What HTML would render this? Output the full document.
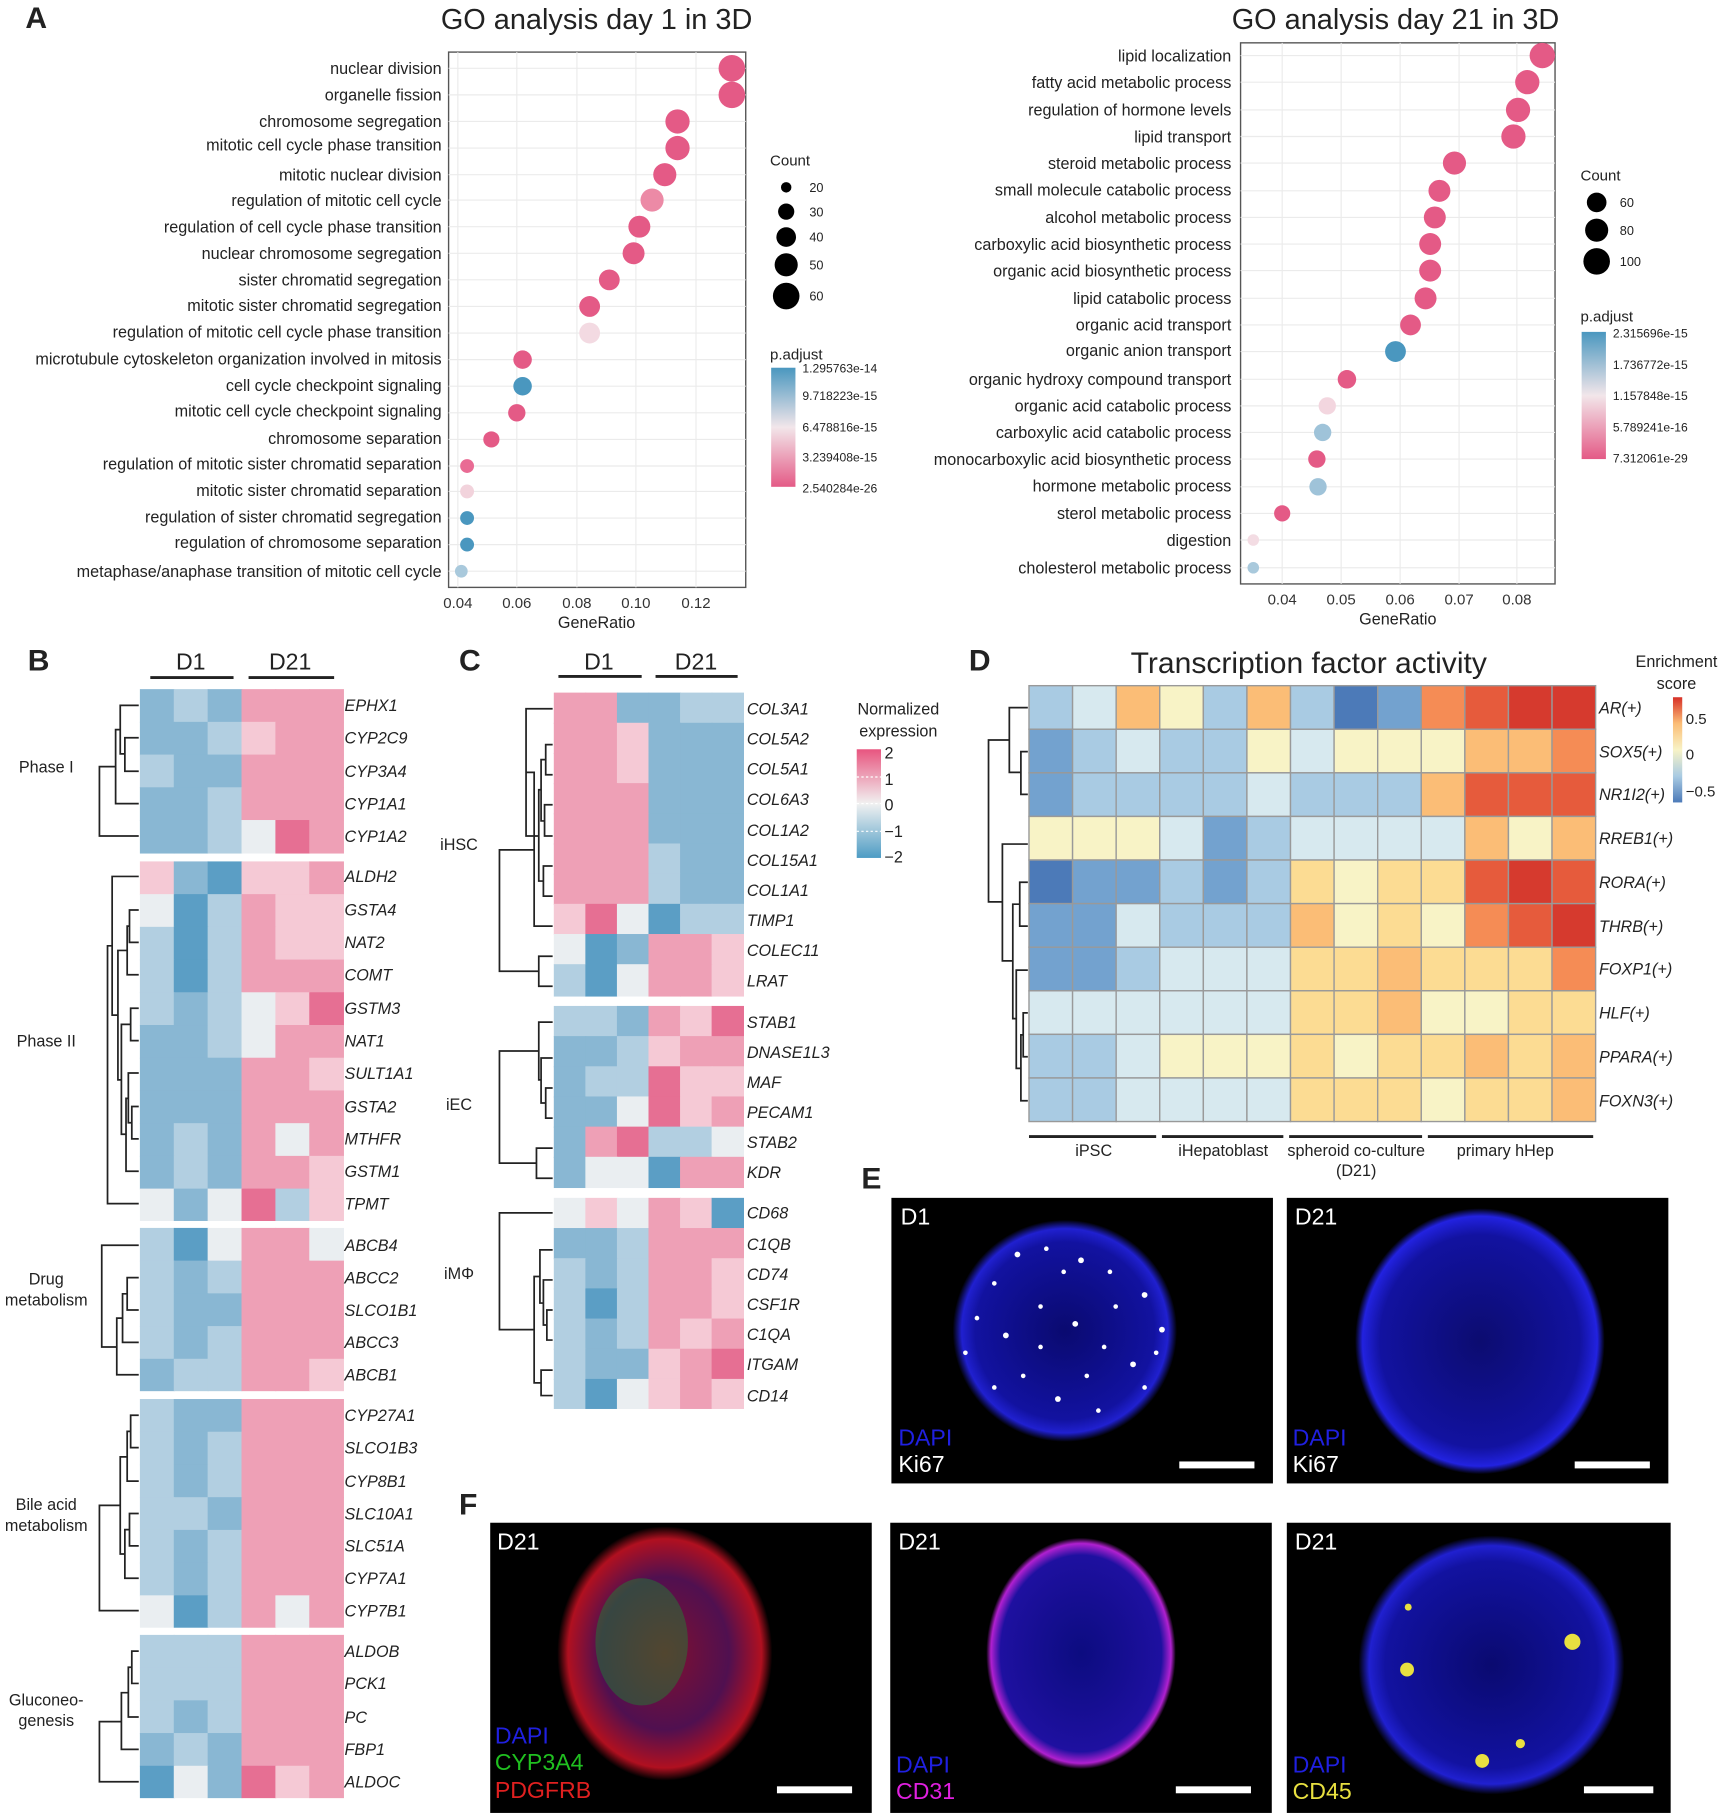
<!DOCTYPE html>
<html><head><meta charset="utf-8"><style>
html,body{margin:0;padding:0;background:#fff}
svg{display:block;font-family:"Liberation Sans",sans-serif}
.s{fill:#5b9ec5}.m{fill:#89b7d3}.l{fill:#b2cfe1}.w{fill:#eaeef1}.q{fill:#f5c9d5}.p{fill:#eea0b6}.r{fill:#e66f93}
.D{fill:#4c7ab8}.B{fill:#73a2cf}.L{fill:#a9cbe3}.C{fill:#d7e9ef}.Y{fill:#f8f3c6}.O{fill:#fcdc93}.P{fill:#fbbd76}.Q{fill:#f58c55}.R{fill:#e65b3c}.X{fill:#d63a2e}
.go{font-size:14px;fill:#222;text-anchor:end}
.tk{font-size:13px;fill:#333}
.gn{font-size:14px;fill:#222;font-style:italic}
.lt{font-size:26px;font-weight:bold;fill:#222}
.dn path{fill:none;stroke:#222;stroke-width:1.5}
</style></head><body>
<svg width="1725" height="1813" viewBox="0 0 1492 1568" xmlns="http://www.w3.org/2000/svg">
<defs>
<linearGradient id="gpa" x1="0" y1="0" x2="0" y2="1"><stop offset="0" stop-color="#4a97bf"/><stop offset="0.5" stop-color="#f2e6ea"/><stop offset="1" stop-color="#e45a86"/></linearGradient>
<linearGradient id="gne" x1="0" y1="0" x2="0" y2="1"><stop offset="0" stop-color="#e8557f"/><stop offset="0.5" stop-color="#f1f1f1"/><stop offset="1" stop-color="#4d9cc4"/></linearGradient>
<linearGradient id="gen" x1="0" y1="0" x2="0" y2="1"><stop offset="0" stop-color="#d73027"/><stop offset="0.25" stop-color="#fbbd76"/><stop offset="0.5" stop-color="#f8f3c6"/><stop offset="0.75" stop-color="#a9cbe3"/><stop offset="1" stop-color="#4c7ab8"/></linearGradient>
<radialGradient id="sph"><stop offset="0" stop-color="#0c0c70"/><stop offset="0.8" stop-color="#1212a0"/><stop offset="0.94" stop-color="#2222e0"/><stop offset="1" stop-color="#000"/></radialGradient>
<radialGradient id="sph2"><stop offset="0" stop-color="#0a0a70"/><stop offset="0.8" stop-color="#1212a0"/><stop offset="0.92" stop-color="#2020d0"/><stop offset="1" stop-color="#000"/></radialGradient>
<radialGradient id="sphr"><stop offset="0" stop-color="#801030"/><stop offset="0.6" stop-color="#501050"/><stop offset="0.9" stop-color="#b01020"/><stop offset="1" stop-color="#000"/></radialGradient>
<radialGradient id="sphm"><stop offset="0" stop-color="#0c0c80"/><stop offset="0.85" stop-color="#1e10a0"/><stop offset="0.95" stop-color="#b020d0"/><stop offset="1" stop-color="#000"/></radialGradient>
</defs>

<!-- ===== Panel A left ===== -->
<text x="22" y="24" class="lt">A</text>
<text x="516" y="25" font-size="25" fill="#222" text-anchor="middle">GO analysis day 1 in 3D</text>
<rect x="388" y="45" width="257" height="463" fill="#fff" stroke="#555" stroke-width="1.2"/>
<g stroke="#ebebeb" stroke-width="1">
<path d="M396 45V508M447 45V508M499 45V508M550 45V508M602 45V508"/>
<path d="M388 59H645M388 82H645M388 105H645M388 128H645M388 151H645M388 173H645M388 196H645M388 219H645M388 242H645M388 265H645M388 288H645M388 311H645M388 334H645M388 357H645M388 380H645M388 403H645M388 425H645M388 448H645M388 471H645M388 494H645"/>
</g>
<g>
<circle cx="633" cy="59" r="11.5" fill="#e45a86"/><circle cx="633" cy="82" r="11.5" fill="#e45a86"/>
<circle cx="586" cy="105" r="10.5" fill="#e45a86"/><circle cx="586" cy="128" r="10.5" fill="#e45a86"/>
<circle cx="575" cy="151" r="10" fill="#e45a86"/><circle cx="564" cy="173" r="10" fill="#ec8aa6"/>
<circle cx="553" cy="196" r="9.5" fill="#e45a86"/><circle cx="548" cy="219" r="9.5" fill="#e45a86"/>
<circle cx="527" cy="242" r="9" fill="#e45a86"/><circle cx="510" cy="265" r="9" fill="#e45a86"/>
<circle cx="510" cy="288" r="9" fill="#f3dae2"/><circle cx="452" cy="311" r="8" fill="#e45a86"/>
<circle cx="452" cy="334" r="8" fill="#4a97bf"/><circle cx="447" cy="357" r="7.5" fill="#e45a86"/>
<circle cx="425" cy="380" r="7" fill="#e45a86"/><circle cx="404" cy="403" r="6" fill="#e96b94"/>
<circle cx="404" cy="425" r="6" fill="#f2d3dc"/><circle cx="404" cy="448" r="6" fill="#4a97bf"/>
<circle cx="404" cy="471" r="6" fill="#4a97bf"/><circle cx="399" cy="494" r="5.5" fill="#a9c9dc"/>
</g>
<g class="go">
<text x="382" y="64">nuclear division</text><text x="382" y="87">organelle fission</text>
<text x="382" y="110">chromosome segregation</text><text x="382" y="130">mitotic cell cycle phase transition</text>
<text x="382" y="156">mitotic nuclear division</text><text x="382" y="178">regulation of mitotic cell cycle</text>
<text x="382" y="201">regulation of cell cycle phase transition</text><text x="382" y="224">nuclear chromosome segregation</text>
<text x="382" y="247">sister chromatid segregation</text><text x="382" y="269">mitotic sister chromatid segregation</text>
<text x="382" y="292">regulation of mitotic cell cycle phase transition</text><text x="382" y="315">microtubule cytoskeleton organization involved in mitosis</text>
<text x="382" y="338">cell cycle checkpoint signaling</text><text x="382" y="360">mitotic cell cycle checkpoint signaling</text>
<text x="382" y="384">chromosome separation</text><text x="382" y="406">regulation of mitotic sister chromatid separation</text>
<text x="382" y="429">mitotic sister chromatid separation</text><text x="382" y="452">regulation of sister chromatid segregation</text>
<text x="382" y="474">regulation of chromosome separation</text><text x="382" y="499">metaphase/anaphase transition of mitotic cell cycle</text>
</g>
<g class="tk" text-anchor="middle"><text x="396" y="526">0.04</text><text x="447" y="526">0.06</text><text x="499" y="526">0.08</text><text x="550" y="526">0.10</text><text x="602" y="526">0.12</text></g>
<text x="516" y="543" font-size="14" fill="#222" text-anchor="middle">GeneRatio</text>
<text x="666" y="143" font-size="13" fill="#222">Count</text>
<circle cx="680" cy="162" r="4.5" fill="#000"/><circle cx="680" cy="183" r="7" fill="#000"/><circle cx="680" cy="205" r="8.5" fill="#000"/><circle cx="680" cy="229" r="10" fill="#000"/><circle cx="680" cy="256" r="11.5" fill="#000"/>
<g font-size="11" fill="#222"><text x="700" y="166">20</text><text x="700" y="187">30</text><text x="700" y="209">40</text><text x="700" y="233">50</text><text x="700" y="260">60</text></g>
<text x="666" y="311" font-size="13" fill="#222">p.adjust</text>
<rect x="667" y="318" width="21" height="103" fill="url(#gpa)"/>
<g font-size="10.5" fill="#222"><text x="694" y="322">1.295763e-14</text><text x="694" y="346">9.718223e-15</text><text x="694" y="373">6.478816e-15</text><text x="694" y="399">3.239408e-15</text><text x="694" y="426">2.540284e-26</text></g>

<!-- ===== Panel A right ===== -->
<text x="1207" y="25" font-size="25" fill="#222" text-anchor="middle">GO analysis day 21 in 3D</text>
<rect x="1073" y="37" width="272" height="468" fill="#fff" stroke="#555" stroke-width="1.2"/>
<g stroke="#ebebeb" stroke-width="1">
<path d="M1109 37V505M1160 37V505M1211 37V505M1262 37V505M1312 37V505"/>
<path d="M1073 48H1345M1073 71H1345M1073 95H1345M1073 118H1345M1073 141H1345M1073 165H1345M1073 188H1345M1073 211H1345M1073 234H1345M1073 258H1345M1073 281H1345M1073 304H1345M1073 328H1345M1073 351H1345M1073 374H1345M1073 397H1345M1073 421H1345M1073 444H1345M1073 467H1345M1073 491H1345"/>
</g>
<g>
<circle cx="1334" cy="48" r="11" fill="#e45a86"/><circle cx="1321" cy="71" r="10.5" fill="#e45a86"/>
<circle cx="1313" cy="95" r="10.5" fill="#e45a86"/><circle cx="1309" cy="118" r="10.5" fill="#e45a86"/>
<circle cx="1258" cy="141" r="10" fill="#e45a86"/><circle cx="1245" cy="165" r="9.5" fill="#e45a86"/>
<circle cx="1241" cy="188" r="9.5" fill="#e45a86"/><circle cx="1237" cy="211" r="9.5" fill="#e45a86"/>
<circle cx="1237" cy="234" r="9.5" fill="#e45a86"/><circle cx="1233" cy="258" r="9.5" fill="#e45a86"/>
<circle cx="1220" cy="281" r="9" fill="#e45a86"/><circle cx="1207" cy="304" r="9" fill="#4a97bf"/>
<circle cx="1165" cy="328" r="8" fill="#e45a86"/><circle cx="1148" cy="351" r="7.5" fill="#f3d6df"/>
<circle cx="1144" cy="374" r="7.5" fill="#9fc3d9"/><circle cx="1139" cy="397" r="7.5" fill="#e45a86"/>
<circle cx="1140" cy="421" r="7.5" fill="#9fc3d9"/><circle cx="1109" cy="444" r="7" fill="#e45a86"/>
<circle cx="1084" cy="467" r="5" fill="#f3dce3"/><circle cx="1084" cy="491" r="5" fill="#a9c9dc"/>
</g>
<g class="go">
<text x="1065" y="53">lipid localization</text><text x="1065" y="76">fatty acid metabolic process</text>
<text x="1065" y="100">regulation of hormone levels</text><text x="1065" y="123">lipid transport</text>
<text x="1065" y="146">steroid metabolic process</text><text x="1065" y="169">small molecule catabolic process</text>
<text x="1065" y="193">alcohol metabolic process</text><text x="1065" y="216">carboxylic acid biosynthetic process</text>
<text x="1065" y="239">organic acid biosynthetic process</text><text x="1065" y="263">lipid catabolic process</text>
<text x="1065" y="286">organic acid transport</text><text x="1065" y="308">organic anion transport</text>
<text x="1065" y="333">organic hydroxy compound transport</text><text x="1065" y="356">organic acid catabolic process</text>
<text x="1065" y="379">carboxylic acid catabolic process</text><text x="1065" y="402">monocarboxylic acid biosynthetic process</text>
<text x="1065" y="425">hormone metabolic process</text><text x="1065" y="449">sterol metabolic process</text>
<text x="1065" y="472">digestion</text><text x="1065" y="496">cholesterol metabolic process</text>
</g>
<g class="tk" text-anchor="middle"><text x="1109" y="523">0.04</text><text x="1160" y="523">0.05</text><text x="1211" y="523">0.06</text><text x="1262" y="523">0.07</text><text x="1312" y="523">0.08</text></g>
<text x="1209" y="540" font-size="14" fill="#222" text-anchor="middle">GeneRatio</text>
<text x="1367" y="156" font-size="13" fill="#222">Count</text>
<circle cx="1381" cy="175" r="8.5" fill="#000"/><circle cx="1381" cy="199" r="10" fill="#000"/><circle cx="1381" cy="226" r="11.5" fill="#000"/>
<g font-size="11" fill="#222"><text x="1401" y="179">60</text><text x="1401" y="203">80</text><text x="1401" y="230">100</text></g>
<text x="1367" y="278" font-size="13" fill="#222">p.adjust</text>
<rect x="1368" y="287" width="21" height="110" fill="url(#gpa)"/>
<g font-size="10.5" fill="#222"><text x="1395" y="292">2.315696e-15</text><text x="1395" y="319">1.736772e-15</text><text x="1395" y="346">1.157848e-15</text><text x="1395" y="373">5.789241e-16</text><text x="1395" y="400">7.312061e-29</text></g>

<!-- ===== Panel B ===== -->
<text x="24" y="580" class="lt">B</text>
<text x="165" y="579" font-size="20" fill="#222" text-anchor="middle">D1</text>
<text x="251" y="579" font-size="20" fill="#222" text-anchor="middle">D21</text>
<path d="M130 586H202M215 586H289" stroke="#222" stroke-width="2.5"/>
<g font-size="14" fill="#222" text-anchor="middle">
<text x="40" y="668">Phase I</text><text x="40" y="905">Phase II</text>
<text x="40" y="1111">Drug</text><text x="40" y="1129">metabolism</text>
<text x="40" y="1306">Bile acid</text><text x="40" y="1324">metabolism</text>
<text x="40" y="1475">Gluconeo-</text><text x="40" y="1493">genesis</text>
</g>
<g transform="translate(121,596)">
<rect x="0" y="0" width="30" height="29" class="m"/><rect x="29.3" y="0" width="30" height="29" class="l"/><rect x="58.6" y="0" width="30" height="29" class="m"/><rect x="87.9" y="0" width="30" height="29" class="p"/><rect x="117.2" y="0" width="30" height="29" class="p"/><rect x="146.5" y="0" width="30" height="29" class="p"/>
<rect x="0" y="28.3" width="30" height="29" class="m"/><rect x="29.3" y="28.3" width="30" height="29" class="m"/><rect x="58.6" y="28.3" width="30" height="29" class="l"/><rect x="87.9" y="28.3" width="30" height="29" class="q"/><rect x="117.2" y="28.3" width="30" height="29" class="p"/><rect x="146.5" y="28.3" width="30" height="29" class="p"/>
<rect x="0" y="56.6" width="30" height="29" class="l"/><rect x="29.3" y="56.6" width="30" height="29" class="m"/><rect x="58.6" y="56.6" width="30" height="29" class="m"/><rect x="87.9" y="56.6" width="30" height="29" class="p"/><rect x="117.2" y="56.6" width="30" height="29" class="p"/><rect x="146.5" y="56.6" width="30" height="29" class="p"/>
<rect x="0" y="84.9" width="30" height="29" class="m"/><rect x="29.3" y="84.9" width="30" height="29" class="m"/><rect x="58.6" y="84.9" width="30" height="29" class="l"/><rect x="87.9" y="84.9" width="30" height="29" class="p"/><rect x="117.2" y="84.9" width="30" height="29" class="p"/><rect x="146.5" y="84.9" width="30" height="29" class="p"/>
<rect x="0" y="113.2" width="30" height="29" class="m"/><rect x="29.3" y="113.2" width="30" height="29" class="m"/><rect x="58.6" y="113.2" width="30" height="29" class="l"/><rect x="87.9" y="113.2" width="30" height="29" class="w"/><rect x="117.2" y="113.2" width="30" height="29" class="r"/><rect x="146.5" y="113.2" width="30" height="29" class="p"/>
</g>
<g transform="translate(121,745)">
<rect x="0" y="0" width="30" height="29" class="q"/><rect x="29.3" y="0" width="30" height="29" class="m"/><rect x="58.6" y="0" width="30" height="29" class="s"/><rect x="87.9" y="0" width="30" height="29" class="q"/><rect x="117.2" y="0" width="30" height="29" class="q"/><rect x="146.5" y="0" width="30" height="29" class="p"/>
<rect x="0" y="28.3" width="30" height="29" class="w"/><rect x="29.3" y="28.3" width="30" height="29" class="s"/><rect x="58.6" y="28.3" width="30" height="29" class="l"/><rect x="87.9" y="28.3" width="30" height="29" class="p"/><rect x="117.2" y="28.3" width="30" height="29" class="q"/><rect x="146.5" y="28.3" width="30" height="29" class="q"/>
<rect x="0" y="56.6" width="30" height="29" class="l"/><rect x="29.3" y="56.6" width="30" height="29" class="s"/><rect x="58.6" y="56.6" width="30" height="29" class="l"/><rect x="87.9" y="56.6" width="30" height="29" class="p"/><rect x="117.2" y="56.6" width="30" height="29" class="q"/><rect x="146.5" y="56.6" width="30" height="29" class="q"/>
<rect x="0" y="84.9" width="30" height="29" class="l"/><rect x="29.3" y="84.9" width="30" height="29" class="s"/><rect x="58.6" y="84.9" width="30" height="29" class="l"/><rect x="87.9" y="84.9" width="30" height="29" class="p"/><rect x="117.2" y="84.9" width="30" height="29" class="p"/><rect x="146.5" y="84.9" width="30" height="29" class="p"/>
<rect x="0" y="113.2" width="30" height="29" class="l"/><rect x="29.3" y="113.2" width="30" height="29" class="m"/><rect x="58.6" y="113.2" width="30" height="29" class="l"/><rect x="87.9" y="113.2" width="30" height="29" class="w"/><rect x="117.2" y="113.2" width="30" height="29" class="q"/><rect x="146.5" y="113.2" width="30" height="29" class="r"/>
<rect x="0" y="141.5" width="30" height="29" class="m"/><rect x="29.3" y="141.5" width="30" height="29" class="m"/><rect x="58.6" y="141.5" width="30" height="29" class="l"/><rect x="87.9" y="141.5" width="30" height="29" class="w"/><rect x="117.2" y="141.5" width="30" height="29" class="p"/><rect x="146.5" y="141.5" width="30" height="29" class="p"/>
<rect x="0" y="169.8" width="30" height="29" class="m"/><rect x="29.3" y="169.8" width="30" height="29" class="m"/><rect x="58.6" y="169.8" width="30" height="29" class="m"/><rect x="87.9" y="169.8" width="30" height="29" class="p"/><rect x="117.2" y="169.8" width="30" height="29" class="p"/><rect x="146.5" y="169.8" width="30" height="29" class="q"/>
<rect x="0" y="198.1" width="30" height="29" class="m"/><rect x="29.3" y="198.1" width="30" height="29" class="m"/><rect x="58.6" y="198.1" width="30" height="29" class="m"/><rect x="87.9" y="198.1" width="30" height="29" class="p"/><rect x="117.2" y="198.1" width="30" height="29" class="p"/><rect x="146.5" y="198.1" width="30" height="29" class="p"/>
<rect x="0" y="226.4" width="30" height="29" class="m"/><rect x="29.3" y="226.4" width="30" height="29" class="l"/><rect x="58.6" y="226.4" width="30" height="29" class="m"/><rect x="87.9" y="226.4" width="30" height="29" class="p"/><rect x="117.2" y="226.4" width="30" height="29" class="w"/><rect x="146.5" y="226.4" width="30" height="29" class="p"/>
<rect x="0" y="254.7" width="30" height="29" class="m"/><rect x="29.3" y="254.7" width="30" height="29" class="l"/><rect x="58.6" y="254.7" width="30" height="29" class="m"/><rect x="87.9" y="254.7" width="30" height="29" class="p"/><rect x="117.2" y="254.7" width="30" height="29" class="p"/><rect x="146.5" y="254.7" width="30" height="29" class="q"/>
<rect x="0" y="283" width="30" height="28" class="w"/><rect x="29.3" y="283" width="30" height="28" class="m"/><rect x="58.6" y="283" width="30" height="28" class="w"/><rect x="87.9" y="283" width="30" height="28" class="r"/><rect x="117.2" y="283" width="30" height="28" class="l"/><rect x="146.5" y="283" width="30" height="28" class="q"/>
</g>
<g transform="translate(121,1062)">
<rect x="0" y="0" width="30" height="29" class="l"/><rect x="29.3" y="0" width="30" height="29" class="s"/><rect x="58.6" y="0" width="30" height="29" class="w"/><rect x="87.9" y="0" width="30" height="29" class="p"/><rect x="117.2" y="0" width="30" height="29" class="p"/><rect x="146.5" y="0" width="30" height="29" class="w"/>
<rect x="0" y="28.3" width="30" height="29" class="l"/><rect x="29.3" y="28.3" width="30" height="29" class="m"/><rect x="58.6" y="28.3" width="30" height="29" class="l"/><rect x="87.9" y="28.3" width="30" height="29" class="p"/><rect x="117.2" y="28.3" width="30" height="29" class="p"/><rect x="146.5" y="28.3" width="30" height="29" class="p"/>
<rect x="0" y="56.6" width="30" height="29" class="l"/><rect x="29.3" y="56.6" width="30" height="29" class="m"/><rect x="58.6" y="56.6" width="30" height="29" class="m"/><rect x="87.9" y="56.6" width="30" height="29" class="p"/><rect x="117.2" y="56.6" width="30" height="29" class="p"/><rect x="146.5" y="56.6" width="30" height="29" class="p"/>
<rect x="0" y="84.9" width="30" height="29" class="l"/><rect x="29.3" y="84.9" width="30" height="29" class="m"/><rect x="58.6" y="84.9" width="30" height="29" class="l"/><rect x="87.9" y="84.9" width="30" height="29" class="p"/><rect x="117.2" y="84.9" width="30" height="29" class="p"/><rect x="146.5" y="84.9" width="30" height="29" class="p"/>
<rect x="0" y="113.2" width="30" height="28" class="m"/><rect x="29.3" y="113.2" width="30" height="28" class="l"/><rect x="58.6" y="113.2" width="30" height="28" class="l"/><rect x="87.9" y="113.2" width="30" height="28" class="p"/><rect x="117.2" y="113.2" width="30" height="28" class="p"/><rect x="146.5" y="113.2" width="30" height="28" class="q"/>
</g>
<g transform="translate(121,1210)">
<rect x="0" y="0" width="30" height="29" class="l"/><rect x="29.3" y="0" width="30" height="29" class="m"/><rect x="58.6" y="0" width="30" height="29" class="m"/><rect x="87.9" y="0" width="30" height="29" class="p"/><rect x="117.2" y="0" width="30" height="29" class="p"/><rect x="146.5" y="0" width="30" height="29" class="p"/>
<rect x="0" y="28.3" width="30" height="29" class="l"/><rect x="29.3" y="28.3" width="30" height="29" class="m"/><rect x="58.6" y="28.3" width="30" height="29" class="l"/><rect x="87.9" y="28.3" width="30" height="29" class="p"/><rect x="117.2" y="28.3" width="30" height="29" class="p"/><rect x="146.5" y="28.3" width="30" height="29" class="p"/>
<rect x="0" y="56.6" width="30" height="29" class="l"/><rect x="29.3" y="56.6" width="30" height="29" class="m"/><rect x="58.6" y="56.6" width="30" height="29" class="l"/><rect x="87.9" y="56.6" width="30" height="29" class="p"/><rect x="117.2" y="56.6" width="30" height="29" class="p"/><rect x="146.5" y="56.6" width="30" height="29" class="p"/>
<rect x="0" y="84.9" width="30" height="29" class="l"/><rect x="29.3" y="84.9" width="30" height="29" class="l"/><rect x="58.6" y="84.9" width="30" height="29" class="m"/><rect x="87.9" y="84.9" width="30" height="29" class="p"/><rect x="117.2" y="84.9" width="30" height="29" class="p"/><rect x="146.5" y="84.9" width="30" height="29" class="p"/>
<rect x="0" y="113.2" width="30" height="29" class="l"/><rect x="29.3" y="113.2" width="30" height="29" class="m"/><rect x="58.6" y="113.2" width="30" height="29" class="l"/><rect x="87.9" y="113.2" width="30" height="29" class="p"/><rect x="117.2" y="113.2" width="30" height="29" class="p"/><rect x="146.5" y="113.2" width="30" height="29" class="p"/>
<rect x="0" y="141.5" width="30" height="29" class="l"/><rect x="29.3" y="141.5" width="30" height="29" class="m"/><rect x="58.6" y="141.5" width="30" height="29" class="l"/><rect x="87.9" y="141.5" width="30" height="29" class="p"/><rect x="117.2" y="141.5" width="30" height="29" class="p"/><rect x="146.5" y="141.5" width="30" height="29" class="p"/>
<rect x="0" y="169.8" width="30" height="28" class="w"/><rect x="29.3" y="169.8" width="30" height="28" class="s"/><rect x="58.6" y="169.8" width="30" height="28" class="l"/><rect x="87.9" y="169.8" width="30" height="28" class="p"/><rect x="117.2" y="169.8" width="30" height="28" class="w"/><rect x="146.5" y="169.8" width="30" height="28" class="p"/>
</g>
<g transform="translate(121,1414)">
<rect x="0" y="0" width="30" height="29" class="l"/><rect x="29.3" y="0" width="30" height="29" class="l"/><rect x="58.6" y="0" width="30" height="29" class="l"/><rect x="87.9" y="0" width="30" height="29" class="p"/><rect x="117.2" y="0" width="30" height="29" class="p"/><rect x="146.5" y="0" width="30" height="29" class="p"/>
<rect x="0" y="28.3" width="30" height="29" class="l"/><rect x="29.3" y="28.3" width="30" height="29" class="l"/><rect x="58.6" y="28.3" width="30" height="29" class="l"/><rect x="87.9" y="28.3" width="30" height="29" class="p"/><rect x="117.2" y="28.3" width="30" height="29" class="p"/><rect x="146.5" y="28.3" width="30" height="29" class="p"/>
<rect x="0" y="56.6" width="30" height="29" class="l"/><rect x="29.3" y="56.6" width="30" height="29" class="m"/><rect x="58.6" y="56.6" width="30" height="29" class="l"/><rect x="87.9" y="56.6" width="30" height="29" class="p"/><rect x="117.2" y="56.6" width="30" height="29" class="p"/><rect x="146.5" y="56.6" width="30" height="29" class="p"/>
<rect x="0" y="84.9" width="30" height="29" class="m"/><rect x="29.3" y="84.9" width="30" height="29" class="l"/><rect x="58.6" y="84.9" width="30" height="29" class="m"/><rect x="87.9" y="84.9" width="30" height="29" class="p"/><rect x="117.2" y="84.9" width="30" height="29" class="p"/><rect x="146.5" y="84.9" width="30" height="29" class="p"/>
<rect x="0" y="113.2" width="30" height="28" class="s"/><rect x="29.3" y="113.2" width="30" height="28" class="w"/><rect x="58.6" y="113.2" width="30" height="28" class="m"/><rect x="87.9" y="113.2" width="30" height="28" class="r"/><rect x="117.2" y="113.2" width="30" height="28" class="q"/><rect x="146.5" y="113.2" width="30" height="28" class="p"/>
</g>
<g class="gn">
<text x="298" y="615">EPHX1</text><text x="298" y="643">CYP2C9</text><text x="298" y="672">CYP3A4</text><text x="298" y="700">CYP1A1</text><text x="298" y="728">CYP1A2</text>
<text x="298" y="763">ALDH2</text><text x="298" y="792">GSTA4</text><text x="298" y="820">NAT2</text><text x="298" y="848">COMT</text><text x="298" y="877">GSTM3</text><text x="298" y="905">NAT1</text><text x="298" y="933">SULT1A1</text><text x="298" y="962">GSTA2</text><text x="298" y="990">MTHFR</text><text x="298" y="1018">GSTM1</text><text x="298" y="1046">TPMT</text>
<text x="298" y="1082">ABCB4</text><text x="298" y="1110">ABCC2</text><text x="298" y="1138">SLCO1B1</text><text x="298" y="1166">ABCC3</text><text x="298" y="1194">ABCB1</text>
<text x="298" y="1229">CYP27A1</text><text x="298" y="1257">SLCO1B3</text><text x="298" y="1286">CYP8B1</text><text x="298" y="1314">SLC10A1</text><text x="298" y="1342">SLC51A</text><text x="298" y="1370">CYP7A1</text><text x="298" y="1398">CYP7B1</text>
<text x="298" y="1433">ALDOB</text><text x="298" y="1461">PCK1</text><text x="298" y="1490">PC</text><text x="298" y="1518">FBP1</text><text x="298" y="1546">ALDOC</text>
</g>
<g class="dn">
<path d="M120 638H108V667H120M120 610H104V652H108M120 695H100V631H104M120 723H86V663H100"/>
<path d="M120 787H112V815H120M120 843H110V801H112M120 872H113V900H120M120 957H114V985H120M120 928H111V971H114M120 1013H109V950H111M109 981H105V886H113M110 822H102V934H105M120 758H97V878H102M120 1041H93V818H97"/>
<path d="M120 1105H110V1133H120M120 1161H106V1119H110M120 1189H101V1140H106M120 1077H88V1165H101"/>
<path d="M120 1224H113V1252H120M120 1281H110V1238H113M120 1309H112V1337H120M120 1365H108V1323H112M110 1260H104V1344H108M120 1393H86V1302H104"/>
<path d="M120 1428H114V1456H120M120 1485H111V1442H114M120 1513H105V1464H111M120 1541H86V1489H105"/>
</g>

<!-- ===== Panel C ===== -->
<text x="397" y="580" class="lt">C</text>
<text x="518" y="579" font-size="20" fill="#222" text-anchor="middle">D1</text>
<text x="602" y="579" font-size="20" fill="#222" text-anchor="middle">D21</text>
<path d="M483 585H555M567 585H638" stroke="#222" stroke-width="2.5"/>
<g font-size="14" fill="#222" text-anchor="middle"><text x="397" y="735">iHSC</text><text x="397" y="960">iEC</text><text x="397" y="1106">iMΦ</text></g>
<g transform="translate(479,599)">
<rect x="0" y="0" width="28" height="27" class="p"/><rect x="27.3" y="0" width="28" height="27" class="p"/><rect x="54.6" y="0" width="28" height="27" class="m"/><rect x="81.9" y="0" width="28" height="27" class="m"/><rect x="109.2" y="0" width="28" height="27" class="l"/><rect x="136.5" y="0" width="28" height="27" class="l"/>
<rect x="0" y="26.1" width="28" height="27" class="p"/><rect x="27.3" y="26.1" width="28" height="27" class="p"/><rect x="54.6" y="26.1" width="28" height="27" class="q"/><rect x="81.9" y="26.1" width="28" height="27" class="m"/><rect x="109.2" y="26.1" width="28" height="27" class="m"/><rect x="136.5" y="26.1" width="28" height="27" class="m"/>
<rect x="0" y="52.2" width="28" height="27" class="p"/><rect x="27.3" y="52.2" width="28" height="27" class="p"/><rect x="54.6" y="52.2" width="28" height="27" class="q"/><rect x="81.9" y="52.2" width="28" height="27" class="m"/><rect x="109.2" y="52.2" width="28" height="27" class="m"/><rect x="136.5" y="52.2" width="28" height="27" class="m"/>
<rect x="0" y="78.3" width="28" height="27" class="p"/><rect x="27.3" y="78.3" width="28" height="27" class="p"/><rect x="54.6" y="78.3" width="28" height="27" class="p"/><rect x="81.9" y="78.3" width="28" height="27" class="m"/><rect x="109.2" y="78.3" width="28" height="27" class="m"/><rect x="136.5" y="78.3" width="28" height="27" class="m"/>
<rect x="0" y="104.4" width="28" height="27" class="p"/><rect x="27.3" y="104.4" width="28" height="27" class="p"/><rect x="54.6" y="104.4" width="28" height="27" class="p"/><rect x="81.9" y="104.4" width="28" height="27" class="m"/><rect x="109.2" y="104.4" width="28" height="27" class="m"/><rect x="136.5" y="104.4" width="28" height="27" class="m"/>
<rect x="0" y="130.5" width="28" height="27" class="p"/><rect x="27.3" y="130.5" width="28" height="27" class="p"/><rect x="54.6" y="130.5" width="28" height="27" class="p"/><rect x="81.9" y="130.5" width="28" height="27" class="l"/><rect x="109.2" y="130.5" width="28" height="27" class="m"/><rect x="136.5" y="130.5" width="28" height="27" class="m"/>
<rect x="0" y="156.6" width="28" height="27" class="p"/><rect x="27.3" y="156.6" width="28" height="27" class="p"/><rect x="54.6" y="156.6" width="28" height="27" class="p"/><rect x="81.9" y="156.6" width="28" height="27" class="l"/><rect x="109.2" y="156.6" width="28" height="27" class="m"/><rect x="136.5" y="156.6" width="28" height="27" class="m"/>
<rect x="0" y="182.7" width="28" height="27" class="q"/><rect x="27.3" y="182.7" width="28" height="27" class="r"/><rect x="54.6" y="182.7" width="28" height="27" class="w"/><rect x="81.9" y="182.7" width="28" height="27" class="s"/><rect x="109.2" y="182.7" width="28" height="27" class="l"/><rect x="136.5" y="182.7" width="28" height="27" class="l"/>
<rect x="0" y="208.8" width="28" height="27" class="w"/><rect x="27.3" y="208.8" width="28" height="27" class="s"/><rect x="54.6" y="208.8" width="28" height="27" class="m"/><rect x="81.9" y="208.8" width="28" height="27" class="p"/><rect x="109.2" y="208.8" width="28" height="27" class="p"/><rect x="136.5" y="208.8" width="28" height="27" class="q"/>
<rect x="0" y="234.9" width="28" height="28" class="l"/><rect x="27.3" y="234.9" width="28" height="28" class="s"/><rect x="54.6" y="234.9" width="28" height="28" class="w"/><rect x="81.9" y="234.9" width="28" height="28" class="p"/><rect x="109.2" y="234.9" width="28" height="28" class="p"/><rect x="136.5" y="234.9" width="28" height="28" class="q"/>
</g>
<g transform="translate(479,870)">
<rect x="0" y="0" width="28" height="27" class="l"/><rect x="27.3" y="0" width="28" height="27" class="l"/><rect x="54.6" y="0" width="28" height="27" class="m"/><rect x="81.9" y="0" width="28" height="27" class="p"/><rect x="109.2" y="0" width="28" height="27" class="q"/><rect x="136.5" y="0" width="28" height="27" class="r"/>
<rect x="0" y="26.1" width="28" height="27" class="m"/><rect x="27.3" y="26.1" width="28" height="27" class="m"/><rect x="54.6" y="26.1" width="28" height="27" class="l"/><rect x="81.9" y="26.1" width="28" height="27" class="q"/><rect x="109.2" y="26.1" width="28" height="27" class="p"/><rect x="136.5" y="26.1" width="28" height="27" class="p"/>
<rect x="0" y="52.2" width="28" height="27" class="m"/><rect x="27.3" y="52.2" width="28" height="27" class="l"/><rect x="54.6" y="52.2" width="28" height="27" class="l"/><rect x="81.9" y="52.2" width="28" height="27" class="r"/><rect x="109.2" y="52.2" width="28" height="27" class="q"/><rect x="136.5" y="52.2" width="28" height="27" class="q"/>
<rect x="0" y="78.3" width="28" height="27" class="m"/><rect x="27.3" y="78.3" width="28" height="27" class="m"/><rect x="54.6" y="78.3" width="28" height="27" class="w"/><rect x="81.9" y="78.3" width="28" height="27" class="r"/><rect x="109.2" y="78.3" width="28" height="27" class="q"/><rect x="136.5" y="78.3" width="28" height="27" class="p"/>
<rect x="0" y="104.4" width="28" height="27" class="m"/><rect x="27.3" y="104.4" width="28" height="27" class="p"/><rect x="54.6" y="104.4" width="28" height="27" class="r"/><rect x="81.9" y="104.4" width="28" height="27" class="l"/><rect x="109.2" y="104.4" width="28" height="27" class="l"/><rect x="136.5" y="104.4" width="28" height="27" class="w"/>
<rect x="0" y="130.5" width="28" height="27" class="m"/><rect x="27.3" y="130.5" width="28" height="27" class="w"/><rect x="54.6" y="130.5" width="28" height="27" class="w"/><rect x="81.9" y="130.5" width="28" height="27" class="s"/><rect x="109.2" y="130.5" width="28" height="27" class="p"/><rect x="136.5" y="130.5" width="28" height="27" class="p"/>
</g>
<g transform="translate(479,1036)">
<rect x="0" y="0" width="28" height="27" class="w"/><rect x="27.3" y="0" width="28" height="27" class="q"/><rect x="54.6" y="0" width="28" height="27" class="w"/><rect x="81.9" y="0" width="28" height="27" class="p"/><rect x="109.2" y="0" width="28" height="27" class="q"/><rect x="136.5" y="0" width="28" height="27" class="s"/>
<rect x="0" y="26.1" width="28" height="27" class="m"/><rect x="27.3" y="26.1" width="28" height="27" class="m"/><rect x="54.6" y="26.1" width="28" height="27" class="l"/><rect x="81.9" y="26.1" width="28" height="27" class="p"/><rect x="109.2" y="26.1" width="28" height="27" class="p"/><rect x="136.5" y="26.1" width="28" height="27" class="p"/>
<rect x="0" y="52.2" width="28" height="27" class="l"/><rect x="27.3" y="52.2" width="28" height="27" class="m"/><rect x="54.6" y="52.2" width="28" height="27" class="l"/><rect x="81.9" y="52.2" width="28" height="27" class="p"/><rect x="109.2" y="52.2" width="28" height="27" class="p"/><rect x="136.5" y="52.2" width="28" height="27" class="q"/>
<rect x="0" y="78.3" width="28" height="27" class="l"/><rect x="27.3" y="78.3" width="28" height="27" class="s"/><rect x="54.6" y="78.3" width="28" height="27" class="l"/><rect x="81.9" y="78.3" width="28" height="27" class="p"/><rect x="109.2" y="78.3" width="28" height="27" class="p"/><rect x="136.5" y="78.3" width="28" height="27" class="q"/>
<rect x="0" y="104.4" width="28" height="27" class="l"/><rect x="27.3" y="104.4" width="28" height="27" class="m"/><rect x="54.6" y="104.4" width="28" height="27" class="l"/><rect x="81.9" y="104.4" width="28" height="27" class="p"/><rect x="109.2" y="104.4" width="28" height="27" class="q"/><rect x="136.5" y="104.4" width="28" height="27" class="p"/>
<rect x="0" y="130.5" width="28" height="27" class="l"/><rect x="27.3" y="130.5" width="28" height="27" class="m"/><rect x="54.6" y="130.5" width="28" height="27" class="m"/><rect x="81.9" y="130.5" width="28" height="27" class="q"/><rect x="109.2" y="130.5" width="28" height="27" class="p"/><rect x="136.5" y="130.5" width="28" height="27" class="r"/>
<rect x="0" y="156.6" width="28" height="26" class="l"/><rect x="27.3" y="156.6" width="28" height="26" class="s"/><rect x="54.6" y="156.6" width="28" height="26" class="w"/><rect x="81.9" y="156.6" width="28" height="26" class="q"/><rect x="109.2" y="156.6" width="28" height="26" class="p"/><rect x="136.5" y="156.6" width="28" height="26" class="q"/>
</g>
<g class="gn">
<text x="646" y="618">COL3A1</text><text x="646" y="644">COL5A2</text><text x="646" y="670">COL5A1</text><text x="646" y="696">COL6A3</text><text x="646" y="723">COL1A2</text><text x="646" y="749">COL15A1</text><text x="646" y="775">COL1A1</text><text x="646" y="801">TIMP1</text><text x="646" y="827">COLEC11</text><text x="646" y="853">LRAT</text>
<text x="646" y="889">STAB1</text><text x="646" y="915">DNASE1L3</text><text x="646" y="941">MAF</text><text x="646" y="967">PECAM1</text><text x="646" y="993">STAB2</text><text x="646" y="1019">KDR</text>
<text x="646" y="1054">CD68</text><text x="646" y="1081">C1QB</text><text x="646" y="1107">CD74</text><text x="646" y="1133">CSF1R</text><text x="646" y="1159">C1QA</text><text x="646" y="1185">ITGAM</text><text x="646" y="1212">CD14</text>
</g>
<g class="dn">
<path d="M478 644H472V670H478M478 696H471V723H478M478 749H470V775H478M472 657H468V710H471M470 762H466V683H468M478 613H455V723H466M478 801H462V668H455M478 827H466V853H478M462 735H432V840H466"/>
<path d="M478 941H472V967H478M478 915H468V954H472M478 884H466V934H468M478 993H464V1019H478M466 909H432V1006H464"/>
<path d="M478 1133H473V1159H478M478 1107H470V1146H473M478 1081H467V1127H470M478 1185H468V1207H478M467 1104H462V1196H468M478 1049H432V1150H462"/>
</g>
<text x="777" y="618" font-size="14" fill="#222" text-anchor="middle">Normalized</text>
<text x="777" y="637" font-size="14" fill="#222" text-anchor="middle">expression</text>
<rect x="741" y="648" width="21" height="94" fill="url(#gne)"/>
<g stroke="#fff" stroke-width="1" stroke-dasharray="2 2"><path d="M741 672H762M741 695H762M741 719H762"/></g>
<g font-size="14" fill="#222"><text x="765" y="656">2</text><text x="765" y="679">1</text><text x="765" y="701">0</text><text x="765" y="724">−1</text><text x="765" y="746">−2</text></g>

<!-- ===== Panel D ===== -->
<text x="838" y="580" class="lt">D</text>
<text x="1132" y="582" font-size="26" fill="#222" text-anchor="middle">Transcription factor activity</text>
<g transform="translate(890,593)" stroke="#999" stroke-width="1.2">
<g transform="translate(0,0)"><rect x="0" width="37.7" height="37.7" class="L"/><rect x="37.7" width="37.7" height="37.7" class="C"/><rect x="75.4" width="37.7" height="37.7" class="P"/><rect x="113.1" width="37.7" height="37.7" class="Y"/><rect x="150.8" width="37.7" height="37.7" class="L"/><rect x="188.5" width="37.7" height="37.7" class="P"/><rect x="226.2" width="37.7" height="37.7" class="L"/><rect x="263.9" width="37.7" height="37.7" class="D"/><rect x="301.6" width="37.7" height="37.7" class="B"/><rect x="339.3" width="37.7" height="37.7" class="Q"/><rect x="377" width="37.7" height="37.7" class="R"/><rect x="414.7" width="37.7" height="37.7" class="X"/><rect x="452.4" width="37.7" height="37.7" class="X"/></g>
<g transform="translate(0,37.7)"><rect x="0" width="37.7" height="37.7" class="B"/><rect x="37.7" width="37.7" height="37.7" class="L"/><rect x="75.4" width="37.7" height="37.7" class="C"/><rect x="113.1" width="37.7" height="37.7" class="L"/><rect x="150.8" width="37.7" height="37.7" class="L"/><rect x="188.5" width="37.7" height="37.7" class="Y"/><rect x="226.2" width="37.7" height="37.7" class="C"/><rect x="263.9" width="37.7" height="37.7" class="Y"/><rect x="301.6" width="37.7" height="37.7" class="Y"/><rect x="339.3" width="37.7" height="37.7" class="Y"/><rect x="377" width="37.7" height="37.7" class="P"/><rect x="414.7" width="37.7" height="37.7" class="P"/><rect x="452.4" width="37.7" height="37.7" class="Q"/></g>
<g transform="translate(0,75.4)"><rect x="0" width="37.7" height="37.7" class="B"/><rect x="37.7" width="37.7" height="37.7" class="L"/><rect x="75.4" width="37.7" height="37.7" class="L"/><rect x="113.1" width="37.7" height="37.7" class="L"/><rect x="150.8" width="37.7" height="37.7" class="L"/><rect x="188.5" width="37.7" height="37.7" class="C"/><rect x="226.2" width="37.7" height="37.7" class="L"/><rect x="263.9" width="37.7" height="37.7" class="L"/><rect x="301.6" width="37.7" height="37.7" class="L"/><rect x="339.3" width="37.7" height="37.7" class="P"/><rect x="377" width="37.7" height="37.7" class="R"/><rect x="414.7" width="37.7" height="37.7" class="R"/><rect x="452.4" width="37.7" height="37.7" class="R"/></g>
<g transform="translate(0,113.1)"><rect x="0" width="37.7" height="37.7" class="Y"/><rect x="37.7" width="37.7" height="37.7" class="Y"/><rect x="75.4" width="37.7" height="37.7" class="Y"/><rect x="113.1" width="37.7" height="37.7" class="C"/><rect x="150.8" width="37.7" height="37.7" class="B"/><rect x="188.5" width="37.7" height="37.7" class="L"/><rect x="226.2" width="37.7" height="37.7" class="C"/><rect x="263.9" width="37.7" height="37.7" class="C"/><rect x="301.6" width="37.7" height="37.7" class="C"/><rect x="339.3" width="37.7" height="37.7" class="C"/><rect x="377" width="37.7" height="37.7" class="P"/><rect x="414.7" width="37.7" height="37.7" class="Y"/><rect x="452.4" width="37.7" height="37.7" class="P"/></g>
<g transform="translate(0,150.8)"><rect x="0" width="37.7" height="37.7" class="D"/><rect x="37.7" width="37.7" height="37.7" class="B"/><rect x="75.4" width="37.7" height="37.7" class="B"/><rect x="113.1" width="37.7" height="37.7" class="L"/><rect x="150.8" width="37.7" height="37.7" class="B"/><rect x="188.5" width="37.7" height="37.7" class="L"/><rect x="226.2" width="37.7" height="37.7" class="O"/><rect x="263.9" width="37.7" height="37.7" class="Y"/><rect x="301.6" width="37.7" height="37.7" class="O"/><rect x="339.3" width="37.7" height="37.7" class="O"/><rect x="377" width="37.7" height="37.7" class="R"/><rect x="414.7" width="37.7" height="37.7" class="X"/><rect x="452.4" width="37.7" height="37.7" class="R"/></g>
<g transform="translate(0,188.5)"><rect x="0" width="37.7" height="37.7" class="B"/><rect x="37.7" width="37.7" height="37.7" class="B"/><rect x="75.4" width="37.7" height="37.7" class="C"/><rect x="113.1" width="37.7" height="37.7" class="L"/><rect x="150.8" width="37.7" height="37.7" class="L"/><rect x="188.5" width="37.7" height="37.7" class="L"/><rect x="226.2" width="37.7" height="37.7" class="P"/><rect x="263.9" width="37.7" height="37.7" class="Y"/><rect x="301.6" width="37.7" height="37.7" class="O"/><rect x="339.3" width="37.7" height="37.7" class="Y"/><rect x="377" width="37.7" height="37.7" class="Q"/><rect x="414.7" width="37.7" height="37.7" class="R"/><rect x="452.4" width="37.7" height="37.7" class="X"/></g>
<g transform="translate(0,226.2)"><rect x="0" width="37.7" height="37.7" class="B"/><rect x="37.7" width="37.7" height="37.7" class="B"/><rect x="75.4" width="37.7" height="37.7" class="L"/><rect x="113.1" width="37.7" height="37.7" class="C"/><rect x="150.8" width="37.7" height="37.7" class="C"/><rect x="188.5" width="37.7" height="37.7" class="C"/><rect x="226.2" width="37.7" height="37.7" class="O"/><rect x="263.9" width="37.7" height="37.7" class="O"/><rect x="301.6" width="37.7" height="37.7" class="P"/><rect x="339.3" width="37.7" height="37.7" class="O"/><rect x="377" width="37.7" height="37.7" class="O"/><rect x="414.7" width="37.7" height="37.7" class="O"/><rect x="452.4" width="37.7" height="37.7" class="Q"/></g>
<g transform="translate(0,263.9)"><rect x="0" width="37.7" height="37.7" class="C"/><rect x="37.7" width="37.7" height="37.7" class="C"/><rect x="75.4" width="37.7" height="37.7" class="C"/><rect x="113.1" width="37.7" height="37.7" class="C"/><rect x="150.8" width="37.7" height="37.7" class="C"/><rect x="188.5" width="37.7" height="37.7" class="C"/><rect x="226.2" width="37.7" height="37.7" class="O"/><rect x="263.9" width="37.7" height="37.7" class="O"/><rect x="301.6" width="37.7" height="37.7" class="P"/><rect x="339.3" width="37.7" height="37.7" class="Y"/><rect x="377" width="37.7" height="37.7" class="Y"/><rect x="414.7" width="37.7" height="37.7" class="O"/><rect x="452.4" width="37.7" height="37.7" class="O"/></g>
<g transform="translate(0,301.6)"><rect x="0" width="37.7" height="37.7" class="L"/><rect x="37.7" width="37.7" height="37.7" class="L"/><rect x="75.4" width="37.7" height="37.7" class="C"/><rect x="113.1" width="37.7" height="37.7" class="Y"/><rect x="150.8" width="37.7" height="37.7" class="Y"/><rect x="188.5" width="37.7" height="37.7" class="Y"/><rect x="226.2" width="37.7" height="37.7" class="O"/><rect x="263.9" width="37.7" height="37.7" class="Y"/><rect x="301.6" width="37.7" height="37.7" class="O"/><rect x="339.3" width="37.7" height="37.7" class="O"/><rect x="377" width="37.7" height="37.7" class="P"/><rect x="414.7" width="37.7" height="37.7" class="O"/><rect x="452.4" width="37.7" height="37.7" class="P"/></g>
<g transform="translate(0,339.3)"><rect x="0" width="37.7" height="37.7" class="L"/><rect x="37.7" width="37.7" height="37.7" class="L"/><rect x="75.4" width="37.7" height="37.7" class="C"/><rect x="113.1" width="37.7" height="37.7" class="C"/><rect x="150.8" width="37.7" height="37.7" class="C"/><rect x="188.5" width="37.7" height="37.7" class="C"/><rect x="226.2" width="37.7" height="37.7" class="O"/><rect x="263.9" width="37.7" height="37.7" class="O"/><rect x="301.6" width="37.7" height="37.7" class="O"/><rect x="339.3" width="37.7" height="37.7" class="Y"/><rect x="377" width="37.7" height="37.7" class="O"/><rect x="414.7" width="37.7" height="37.7" class="O"/><rect x="452.4" width="37.7" height="37.7" class="P"/></g>
</g>
<g class="gn">
<text x="1383" y="617">AR(+)</text><text x="1383" y="655">SOX5(+)</text><text x="1383" y="692">NR1I2(+)</text><text x="1383" y="730">RREB1(+)</text><text x="1383" y="768">RORA(+)</text><text x="1383" y="806">THRB(+)</text><text x="1383" y="843">FOXP1(+)</text><text x="1383" y="881">HLF(+)</text><text x="1383" y="919">PPARA(+)</text><text x="1383" y="957">FOXN3(+)</text>
</g>
<g class="dn">
<path d="M889 650H883V687H889M889 612H873V668H883M889 763H882V801H889M889 876H885V914H889M889 952H883V895H885M889 839H879V924H883M882 782H876V881H879M889 730H867V831H876M873 640H855V780H867"/>
</g>
<text x="1450" y="577" font-size="14" fill="#222" text-anchor="middle">Enrichment</text>
<text x="1450" y="596" font-size="14" fill="#222" text-anchor="middle">score</text>
<rect x="1447" y="603" width="8" height="91" fill="url(#gen)"/>
<g font-size="13" fill="#222"><text x="1458" y="626">0.5</text><text x="1458" y="657">0</text><text x="1458" y="689">−0.5</text></g>
<path d="M890 983H1000M1005 983H1110M1115 983H1230M1235 983H1378" stroke="#222" stroke-width="2.5"/>
<g font-size="14" fill="#222" text-anchor="middle"><text x="946" y="1000">iPSC</text><text x="1058" y="1000">iHepatoblast</text><text x="1173" y="1000">spheroid co-culture</text><text x="1173" y="1017">(D21)</text><text x="1302" y="1000">primary hHep</text></g>

<!-- ===== Panel E ===== -->
<text x="745" y="1028" class="lt">E</text>
<rect x="771" y="1036" width="330" height="247" fill="#000"/>
<ellipse cx="921" cy="1151" rx="97" ry="96" fill="url(#sph2)"/>
<g fill="#fff">
<circle cx="880" cy="1085" r="2.5"/><circle cx="905" cy="1080" r="2"/><circle cx="935" cy="1090" r="2.5"/><circle cx="960" cy="1100" r="2"/><circle cx="990" cy="1120" r="2.5"/><circle cx="1005" cy="1150" r="2.5"/><circle cx="860" cy="1110" r="2"/><circle cx="845" cy="1140" r="2"/><circle cx="870" cy="1155" r="2.5"/><circle cx="900" cy="1130" r="2"/><circle cx="930" cy="1145" r="2.5"/><circle cx="955" cy="1165" r="2"/><circle cx="980" cy="1180" r="2.5"/><circle cx="885" cy="1190" r="2"/><circle cx="915" cy="1210" r="2.5"/><circle cx="950" cy="1220" r="2"/><circle cx="860" cy="1200" r="2"/><circle cx="990" cy="1200" r="2"/><circle cx="920" cy="1100" r="2"/><circle cx="940" cy="1190" r="2"/><circle cx="835" cy="1170" r="2"/><circle cx="965" cy="1130" r="2"/><circle cx="900" cy="1165" r="2"/><circle cx="1000" cy="1170" r="2"/>
</g>
<text x="779" y="1059" font-size="20" fill="#fff">D1</text>
<text x="777" y="1250" font-size="20" fill="#2020e0">DAPI</text><text x="777" y="1273" font-size="20" fill="#fff">Ki67</text>
<rect x="1020" y="1264" width="65" height="6" fill="#fff"/>
<rect x="1113" y="1036" width="330" height="247" fill="#000"/>
<ellipse cx="1280" cy="1160" rx="108" ry="115" fill="url(#sph)"/>
<text x="1120" y="1059" font-size="20" fill="#fff">D21</text>
<text x="1118" y="1250" font-size="20" fill="#2020e0">DAPI</text><text x="1118" y="1273" font-size="20" fill="#fff">Ki67</text>
<rect x="1362" y="1264" width="65" height="6" fill="#fff"/>

<!-- ===== Panel F ===== -->
<text x="397" y="1310" class="lt">F</text>
<rect x="424" y="1317" width="330" height="251" fill="#000"/>
<ellipse cx="575" cy="1430" rx="93" ry="110" fill="url(#sphr)"/>
<ellipse cx="555" cy="1420" rx="40" ry="55" fill="#1a8a30" opacity="0.45"/>
<text x="430" y="1340" font-size="20" fill="#fff">D21</text>
<text x="428" y="1508" font-size="20" fill="#2020e0">DAPI</text><text x="428" y="1531" font-size="20" fill="#20c020">CYP3A4</text><text x="428" y="1555" font-size="20" fill="#e02020">PDGFRB</text>
<rect x="672" y="1545" width="65" height="6" fill="#fff"/>
<rect x="770" y="1317" width="330" height="251" fill="#000"/>
<ellipse cx="935" cy="1430" rx="82" ry="100" fill="url(#sphm)"/>
<text x="777" y="1340" font-size="20" fill="#fff">D21</text>
<text x="775" y="1533" font-size="20" fill="#2020e0">DAPI</text><text x="775" y="1556" font-size="20" fill="#e020e0">CD31</text>
<rect x="1017" y="1545" width="65" height="6" fill="#fff"/>
<rect x="1113" y="1317" width="332" height="251" fill="#000"/>
<ellipse cx="1290" cy="1440" rx="115" ry="112" fill="url(#sph2)"/>
<g fill="#e8e040"><circle cx="1217" cy="1444" r="6"/><circle cx="1360" cy="1420" r="7"/><circle cx="1282" cy="1523" r="6"/><circle cx="1315" cy="1508" r="4"/><circle cx="1218" cy="1390" r="3"/></g>
<text x="1120" y="1340" font-size="20" fill="#fff">D21</text>
<text x="1118" y="1533" font-size="20" fill="#2020e0">DAPI</text><text x="1118" y="1556" font-size="20" fill="#e8e040">CD45</text>
<rect x="1370" y="1545" width="60" height="6" fill="#fff"/>
</svg>
</body></html>
